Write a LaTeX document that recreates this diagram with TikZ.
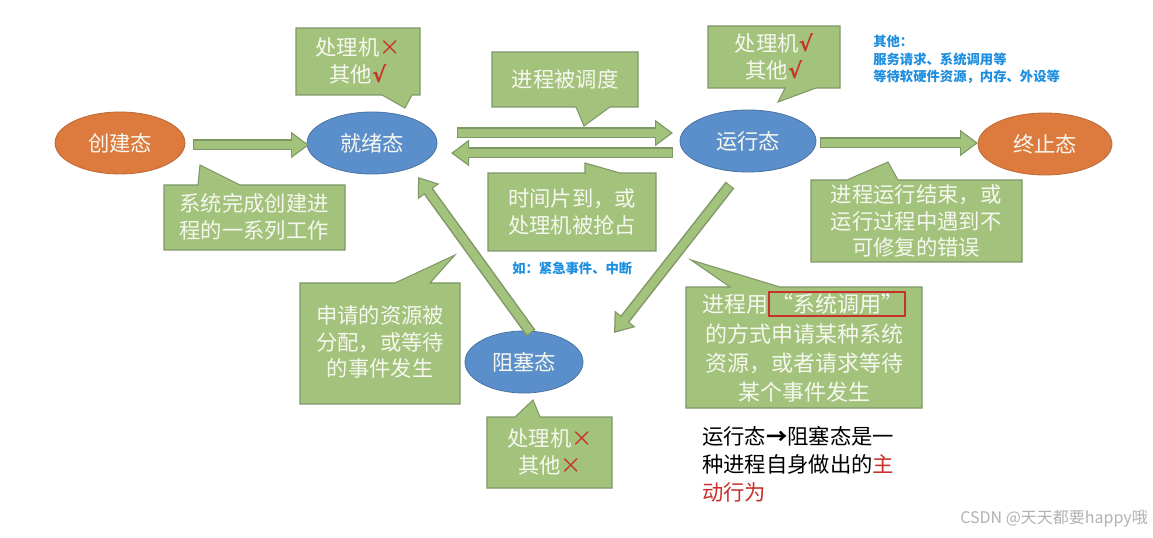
\documentclass[tikz,border=0pt]{standalone}
\usepackage{fontspec}
\setmainfont{Noto Sans CJK SC}
\newfontfamily\symf{DejaVu Sans}
\usetikzlibrary{arrows.meta,shapes.geometric}
\definecolor{gfill}{HTML}{A3C27B}
\definecolor{gline}{HTML}{7F9868}
\definecolor{bfill}{HTML}{5B8FCB}
\definecolor{ofill}{HTML}{DD7A3E}
\definecolor{wtxt}{HTML}{F6F8F0}
\definecolor{bluetxt}{HTML}{1E8FE0}
\definecolor{redc}{HTML}{C8302A}
\newcommand{\yes}{\textcolor{redc}{\symf\bfseries √}}
\newcommand{\nom}{\textcolor{redc}{×}}
\begin{document}
\begin{tikzpicture}[x=0.75pt,y=-0.75pt,
  state/.style={ellipse,minimum width=#1*0.75pt,minimum height=46.5pt,inner sep=0pt,text=wtxt,font=\fontsize{16}{19}\selectfont},
  bst/.style={state=#1,fill=bfill,draw=bfill!80!black,line width=0.6pt},
  ost/.style={state=#1,fill=ofill,draw=ofill!85!black,line width=0.6pt},
  call/.style={fill=gfill,draw=gline,line width=0.8pt},
  ctext/.style={text=wtxt,font=\fontsize{16}{20}\selectfont,align=center,inner sep=0pt},
  fatout/.style={draw=gline,line width=11*0.75pt,-{Triangle[length=13.5pt,width=19pt]}},
  fatin/.style={draw=gfill,line width=8*0.75pt,shorten >=1.6pt,shorten <=0.8pt,-{Triangle[length=11pt,width=15.5pt]}},
  blue/.style={text=bluetxt,font=\bfseries\fontsize{10}{12}\selectfont,anchor=west,inner sep=0pt}]
\useasboundingbox (0,0) rectangle (1153,538);
\fill[white] (0,0) rectangle (1153,538);
% states
\node[ost=130] (new) at (120,143) {创建态};
\node[bst=130] (ready) at (372,143) {就绪态};
\node[bst=136] (run) at (748,141) {运行态};
\node[ost=134] (term) at (1045,144) {终止态};
\node[bst=118] (block) at (524,362) {阻塞态};
% arrow coordinates
\coordinate (a1s) at (193,145); \coordinate (a1e) at (309,145);
\coordinate (a2s) at (457,133); \coordinate (a2e) at (673,133);
\coordinate (a3s) at (673,153); \coordinate (a3e) at (451,153);
\coordinate (a4s) at (820,143); \coordinate (a4e) at (978,143);
\coordinate (a5s) at (531,333); \coordinate (a5e) at (418,177);
\coordinate (a6s) at (730,185); \coordinate (a6e) at (614,333);
\foreach \s/\e in {a1s/a1e,a2s/a2e,a3s/a3e,a4s/a4e,a5s/a5e,a6s/a6e}{
  \draw[fatout] (\s) -- (\e);
  \draw[fatin] (\s) -- (\e);
}
% callouts
\draw[call] (296,28) -- (420,28) -- (420,95) -- (412,95) -- (405,108) -- (382,95) -- (296,95) -- cycle;
\node[ctext] (c1) at (358,61) {处理机\nom\\其他\yes};
\draw[call] (492,52) -- (638,52) -- (638,107) -- (610,107) -- (584,126) -- (576,107) -- (492,107) -- cycle;
\node[ctext] (c2) at (565,79) {进程被调度};
\draw[call] (488,173) -- (585,173) -- (585,163) -- (620,173) -- (656,173) -- (656,251) -- (488,251) -- cycle;
\node[ctext] (c3) at (572,212) {时间片到，或\\处理机被抢占};
\draw[call] (164,185) -- (198,185) -- (200,165) -- (240,185) -- (345,185) -- (345,250) -- (164,250) -- cycle;
\node[ctext] (c4) at (254,217) {系统完成创建进\\程的一系列工作};
\draw[call] (708,26) -- (840,26) -- (840,88) -- (816,88) -- (778,102) -- (785,88) -- (708,88) -- cycle;
\node[ctext] (c5) at (774,57) {处理机\yes\\其他\yes};
\draw[call] (811,180) -- (847,180) -- (888,162) -- (898,180) -- (1022,180) -- (1022,262) -- (811,262) -- cycle;
\node[ctext] (c6) at (916,221) {进程运行结束，或\\运行过程中遇到不\\可修复的错误};
\draw[call] (300,283) -- (395,283) -- (455,255) -- (430,283) -- (460,283) -- (460,404) -- (300,404) -- cycle;
\node[ctext] (c7) at (380,342) {申请的资源被\\分配，或等待\\的事件发生};
\draw[call] (686,287) -- (730,287) -- (691,260) -- (780,287) -- (922,287) -- (922,408) -- (686,408) -- cycle;
\node[ctext,font=\fontsize{16.5}{22}\selectfont] (c8) at (804,347) {进程用\setlength\fboxsep{0.5pt}\setlength\fboxrule{1.5pt}\fcolorbox{redc}{gfill}{“系统调用”}\\的方式申请某种系统\\资源，或者请求等待\\某个事件发生};
\draw[call] (487,417) -- (515,417) -- (533,400) -- (540,417) -- (612,417) -- (612,488) -- (487,488) -- cycle;
\node[ctext] (c9) at (550,452) {处理机\nom\\其他\nom};
% blue notes
\node[blue] (n1) at (873,41) {其他：};
\node[blue] (n2) at (873,59) {服务请求、系统调用等};
\node[blue] (n3) at (873,77) {等待软硬件资源，内存、外设等};
\node[blue] (n4) at (512,268) {如：紧急事件、中断};
% black note
\node[anchor=north west,align=left,inner sep=0pt,font=\fontsize{16}{21}\selectfont] (note) at (702,426)
 {运行态\textbf{→}阻塞态是一\\种进程自身做出的\textcolor{redc}{主}\\\textcolor{redc}{动行为}};
\node[anchor=east,text=black!30,font=\fontsize{12}{14}\selectfont,inner sep=0pt] (wm) at (1148,519) {CSDN @天天都要happy哦};
\end{tikzpicture}
\end{document}
